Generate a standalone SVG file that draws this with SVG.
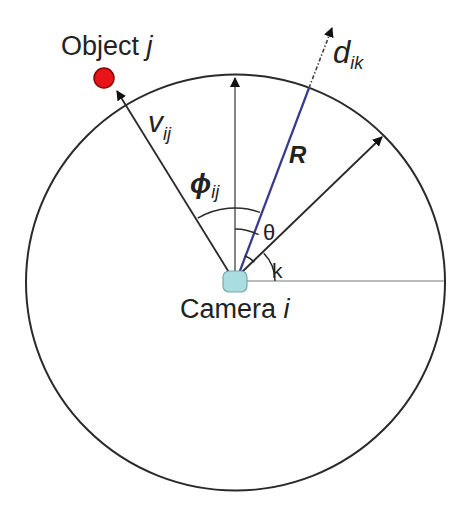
<svg xmlns="http://www.w3.org/2000/svg" width="474" height="506" viewBox="0 0 474 506">
<style>
.t{font-family:"Liberation Sans",Arial,sans-serif;fill:#222}
.ln{stroke:#2a2a2a;stroke-width:1.8;fill:none}
.arc{stroke:#2a2a2a;stroke-width:1.5;fill:none}
</style>
<defs>
<marker id="ah" viewBox="0 0 10 10" refX="9" refY="5" markerWidth="10" markerHeight="10" markerUnits="userSpaceOnUse" orient="auto">
<path d="M0,0 L10,5 L0,10 z" fill="#111"/>
</marker>
</defs>
<rect width="474" height="506" fill="#fff"/>
<g id="range">
<ellipse cx="235.5" cy="282.5" rx="209.5" ry="208" fill="none" stroke="#2a2a2a" stroke-width="2"/>
</g>
<g id="connectors">
<line x1="247" y1="281" x2="444" y2="281" stroke="#bbb" stroke-width="2"/>
<line x1="235" y1="272" x2="235" y2="78" stroke="#666" stroke-width="1.6" marker-end="url(#ah)"/>
<line x1="230" y1="274" x2="117" y2="91" class="ln" marker-end="url(#ah)"/>
<line x1="241" y1="273" x2="382" y2="137" class="ln" marker-end="url(#ah)"/>
<line x1="238" y1="276" x2="309" y2="88" stroke="#3a3a8c" stroke-width="2.2"/>
<line x1="309" y1="88" x2="332" y2="28" stroke="#444" stroke-width="1.6" stroke-dasharray="4,2,1.5,2" marker-end="url(#ah)"/>
<path class="arc" d="M197.8,218.2 A73,73 0 0 1 260,212.4"/>
<path class="arc" d="M235,229 A52,52 0 0 1 258.6,234.7"/>
<path class="arc" d="M244.7,255.8 A27,27 0 0 1 254.4,262.2"/>
<path class="arc" d="M263.8,253.2 A40,40 0 0 1 275,281"/>
</g>
<g id="object">
<circle cx="104" cy="78" r="10" fill="#e8141a" stroke="#8a0000" stroke-width="1.5"/>
<text class="t" x="61" y="55" font-size="27">Object <tspan font-style="italic">j</tspan></text>
</g>
<g id="camera">
<rect x="223" y="271" width="24" height="21" rx="6" fill="#a9dde2" stroke="#7aa" stroke-width="1.2"/>
<text class="t" x="180" y="318" font-size="27">Camera <tspan font-style="italic">i</tspan></text>
</g>
<g id="labels">
<text class="t" x="148" y="132" font-size="30" font-style="italic">v<tspan font-size="18" dy="8">ij</tspan></text>
<text class="t" x="190" y="193" font-size="28" font-style="italic" font-weight="bold">ϕ<tspan font-size="18" font-weight="normal" dy="5">ij</tspan></text>
<text class="t" x="289" y="163" font-size="24" font-style="italic" font-weight="bold">R</text>
<text class="t" x="333" y="63" font-size="31" font-style="italic">d<tspan font-size="18" dy="6">ik</tspan></text>
<text class="t" x="263" y="240" font-size="22">θ</text>
<text class="t" x="272" y="278" font-size="21">k</text>
</g>
</svg>
